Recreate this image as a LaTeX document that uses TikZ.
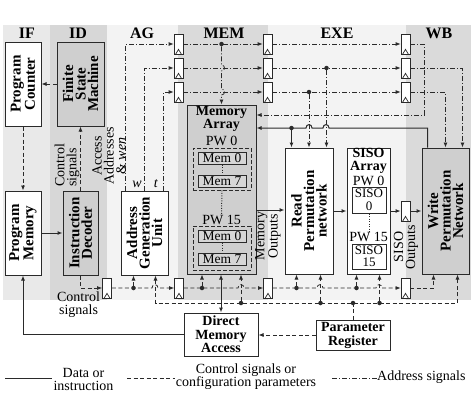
\documentclass[tikz,border=0pt]{standalone}
\usepackage{fontspec}
\setmainfont{Liberation Serif}
\usetikzlibrary{arrows.meta,calc}
\definecolor{bIF}{HTML}{E9E9E9}
\definecolor{bID}{HTML}{D7D7D7}
\definecolor{bAG}{HTML}{F3F3F3}
\definecolor{bMEM}{HTML}{DADADA}
\definecolor{bEXE}{HTML}{F3F3F3}
\definecolor{bWB}{HTML}{DADADA}
\definecolor{boxg}{HTML}{CFCFCF}
\definecolor{memg}{HTML}{D6D6D6}
\definecolor{lineg}{HTML}{2A2A2A}
\begin{document}
\begin{tikzpicture}[x=1pt,y=-1pt,
  >={Latex[length=5pt,width=4pt]},
  blk/.style={draw=lineg,line width=1pt,inner sep=0pt},
  bt/.style={font=\bfseries\fontsize{14}{12.5}\selectfont,align=center,inner sep=0pt},
  rbt/.style={font=\bfseries\fontsize{15}{12.5}\selectfont,align=center,inner sep=0pt,rotate=90},
  rt/.style={font=\fontsize{14}{12}\selectfont,align=center,inner sep=0pt},
  lt/.style={font=\fontsize{14}{13}\selectfont,align=center,inner sep=0pt},
  rrt/.style={rt,rotate=90},
  stage/.style={font=\bfseries\fontsize{16}{16}\selectfont,inner sep=0pt},
  ffbox/.style={draw=lineg,fill=white,line width=0.8pt,minimum width=9pt,minimum height=20pt,inner sep=0pt},
  ffclk/.style={draw=lineg,line width=0.7pt},
  addr/.style={draw=lineg,line width=0.8pt,dash pattern=on 5pt off 2pt on 1pt off 2pt},
  ctrl/.style={draw=lineg,line width=0.8pt,dash pattern=on 4pt off 2.5pt},
  data/.style={draw=lineg,line width=1pt},
  dotln/.style={draw=lineg,line width=1pt,dash pattern=on 1pt off 1.5pt},
  pwbox/.style={draw=lineg,line width=0.8pt,dash pattern=on 4pt off 2pt,inner sep=0pt},
  membox/.style={draw=lineg,line width=1pt,fill=memg,minimum width=48pt,minimum height=12pt,inner sep=0pt,font=\fontsize{13.5}{11}\selectfont},
  sbox/.style={draw=lineg,line width=1pt,fill=white,minimum width=34pt,inner sep=0pt,align=center,font=\fontsize{13}{12.5}\selectfont},
  dot/.style={circle,fill=lineg,inner sep=0pt,minimum size=4.5pt}
]
\newcommand\ffreg[3]{%
  \node[ffbox] (#1) at (#2,#3) {};
  \draw[ffclk] ([xshift=-3pt]#1.south) -- ([yshift=5pt]#1.south) -- ([xshift=3pt]#1.south);
}
\fill[white] (0,0) rectangle (474,415);
\useasboundingbox (0,0) rectangle (474,415);
% stage bands
\fill[bIF] (3,25) rectangle (50,300);
\fill[bID] (50,25) rectangle (107,300);
\fill[bAG] (107,25) rectangle (178,300);
\fill[bMEM] (178,25) rectangle (268,300);
\fill[bEXE] (268,25) rectangle (406,300);
\fill[bWB] (406,25) rectangle (471,300);
\node[stage] (sIF) at (27,33) {IF};
\node[stage] (sID) at (78,33) {ID};
\node[stage] (sAG) at (142,33) {AG};
\node[stage] (sMEM) at (224,33) {MEM};
\node[stage] (sEXE) at (337,33) {EXE};
\node[stage] (sWB) at (439,33) {WB};

% blocks
\node[blk,fill=white,minimum width=36pt,minimum height=84pt] (pc) at (23,84) {};
\node[rbt] (pcT) at (pc) {Program\\Counter};
\node[blk,fill=boxg,minimum width=47pt,minimum height=84pt] (fsm) at (80.5,84) {};
\node[rbt] (fsmT) at (fsm) {Finite\\State\\Machine};
\node[blk,fill=white,minimum width=36pt,minimum height=84pt] (pm) at (23,233) {};
\node[rbt] (pmT) at (pm) {Program\\Memory};
\node[blk,fill=boxg,minimum width=35pt,minimum height=84pt] (idec) at (80.5,233) {};
\node[rbt] (idecT) at (idec) {Instruction\\Decoder};
\node[blk,fill=white,minimum width=47pt,minimum height=84pt] (agu) at (144.5,233) {};
\node[rbt] (aguT) at (agu) {Address\\Generation\\Unit};
\node[blk,fill=boxg,minimum width=69pt,minimum height=169pt] (mem) at (221.5,189.5) {};
\node[bt] (memT) at (221.5,119) {Memory\\Array};
\node[rt] (pw0) at (221.5,141) {PW 0};
\node[pwbox,minimum width=58pt,minimum height=42pt] (pwa) at (222,169) {};
\node[membox] (m00) at (222,158) {Mem 0};
\node[membox] (m07) at (222,181) {Mem 7};
\draw[dotln] (m00.south) -- (m07.north);
\coordinate (pwmid) at (221.5,214);
\draw[dotln] (pwa.south) -- (pwmid);
\node[rt] (pw15) at (221.5,220) {PW 15};
\node[pwbox,minimum width=58pt,minimum height=44pt] (pwb) at (222,248) {};
\node[membox] (m10) at (222,236) {Mem 0};
\node[membox] (m17) at (222,259) {Mem 7};
\draw[dotln] (m10.south) -- (m17.north);
\node[blk,fill=white,minimum width=48pt,minimum height=126pt] (rpn) at (309,211) {};
\node[rbt] (rpnT) at (rpn) {Read\\Permutation\\network};
\node[blk,fill=white,minimum width=43pt,minimum height=126pt] (siso) at (368.5,211) {};
\node[bt] (sisoT) at (368.5,161) {SISO\\Array};
\node[rt] (spw0) at (368.5,181) {PW 0};
\node[sbox,minimum height=26pt] (s0) at (369,200) {SISO\\0};
\coordinate (smid) at (369,232);
\draw[dotln] (s0.south) -- (smid);
\node[rt] (spw15) at (368.5,236.5) {PW 15};
\node[sbox,minimum height=25pt] (s15) at (369,256.5) {SISO\\15};
\node[blk,fill=boxg,minimum width=47pt,minimum height=126pt] (wpn) at (445.5,211) {};
\node[rbt] (wpnT) at (wpn) {Write\\Permutation\\Network};
\node[blk,fill=white,minimum width=74pt,minimum height=43pt] (dma) at (221,334.5) {};
\node[bt,font=\bfseries\fontsize{14}{13.5}\selectfont] (dmaT) at (dma) {Direct\\Memory\\Access};
\node[blk,fill=white,minimum width=74pt,minimum height=30pt] (preg) at (353,335) {};
\node[bt,font=\bfseries\fontsize{14}{14}\selectfont] (pregT) at (preg) {Parameter\\Register};

% registers
\ffreg{fa1}{178.5}{44}\ffreg{fa2}{178.5}{68}\ffreg{fa3}{178.5}{92}
\ffreg{fb1}{267.5}{44}\ffreg{fb2}{267.5}{68}\ffreg{fb3}{267.5}{92}
\ffreg{fc1}{405.5}{44}\ffreg{fc2}{405.5}{68}\ffreg{fc3}{405.5}{92}
\ffreg{fd1}{107}{288}\ffreg{fd2}{179}{288}\ffreg{fd3}{268}{288}\ffreg{fd4}{405.5}{288}
\ffreg{fs}{405.5}{211}

% helper coordinates
\coordinate (Y115) at (0,115);
\coordinate (Y128) at (0,128);
\coordinate (Y210) at (0,210);
\coordinate (Y288) at (0,288);
\coordinate (Y303) at (0,303);
\coordinate (X424) at (424,0);
\coordinate (rpnS) at ($(rpn.north west)+(7,0)$);
\coordinate (rpnB) at ($(rpn.north east)+(-7,0)$);
\coordinate (wpnS) at ($(wpn.north west)+(6,0)$);
\coordinate (wpnC) at ($(wpn.north east)+(-7,0)$);
\coordinate (agL) at ($(agu.south west)+(13,0)$);
\coordinate (agR) at ($(agu.south east)+(-13,0)$);
\coordinate (memL) at ($(mem.south)+(-19.5,0)$);
\coordinate (memR) at ($(mem.south)+(19.5,0)$);
\coordinate (rpnL) at ($(rpn.south west)+(12,0)$);
\coordinate (rpnR) at ($(rpn.south east)+(-13,0)$);
\coordinate (sisoL) at ($(siso.south west)+(10,0)$);
\coordinate (sisoR) at ($(siso.south east)+(-11,0)$);
\coordinate (wpnL) at ($(wpn.south west)+(12,0)$);
\coordinate (wpnR) at ($(wpn.south east)+(-12,0)$);

% address signals
\draw[addr,->] ($(agu.north west)+(5,0)$) |- (fa1.west);
\draw[addr,->] ($(agu.north)+(-0.5,0)$) |- (fa2.west);
\draw[addr,->] ($(agu.north east)+(-5,0)$) |- (fa3.west);
\draw[addr,->] (fa1.east) -- (fb1.west);
\draw[addr,->] (fa2.east) -- (fb2.west);
\draw[addr,->] (fa3.east) -- (fb3.west);
\draw[addr,->] (fb1.east) -- (fc1.west);
\draw[addr,->] (fb2.east) -- (fc2.west);
\draw[addr,->] (fb3.east) -- (fc3.west);
\draw[addr,->] (fc1.east) -| (X424 |- Y115) -- (mem.east |- Y115);
\draw[addr,->] (fc2.east) -| (wpnC);
\draw[addr,->] (fc3.east) -| (wpn.north);
\node[dot] (d1) at (mem.north |- fa1.east) {};
\draw[addr,->] (d1) -- (221.5,65) .. controls (225.5,65) and (225.5,71) .. (221.5,71)
  -- (221.5,89) .. controls (225.5,89) and (225.5,95) .. (221.5,95) -- (mem.north);
\node[dot] (d2) at (rpnB |- fb2.east) {};
\draw[addr,->] (d2) -- (rpnB);
\node[dot] (d3) at (rpn.north |- fb3.east) {};
\draw[addr,->] (d3) -- (rpn.north);

% data
\draw[data,->] (wpnS) -- (wpnS |- Y128) -- (329,128) .. controls (329,123.5) and (323,123.5) .. (323,128)
  -- (312,128) .. controls (312,123.5) and (306,123.5) .. (306,128) -- (mem.east |- Y128);
\node[dot] (d4) at (rpnS |- Y128) {};
\draw[data,->] (d4) -- (rpnS);
\draw[data,->] (mem.east |- Y210) -- (rpn.west |- Y210);
\draw[data,->] (rpn.east) -- (siso.west);
\draw[data,->] (siso.east) -- (fs.west);
\draw[data,->] (fs.east) -- (wpn.west);
\draw[data,->] (pm.east) -- (idec.west);
\draw[data,->] (dma.west) -| (pm.south);
\draw[data,<->] (dma.north) -- (dma.north |- mem.south);

% control
\draw[ctrl,->] (fsm.west) -- (pc.east);
\draw[ctrl,->] (pc.south) -- (pm.north);
\draw[ctrl,->] (idec.north) -- (fsm.south);
\draw[ctrl,->] (idec.south) |- (fd1.west);
\node[dot] (c1) at (agL |- Y288) {};
\draw[ctrl,->] (c1) -- (agL);
\draw[ctrl,->] (fd1.east) -- (152,288) .. controls (152,283.5) and (158,283.5) .. (158,288) -- (fd2.west);
\node[dot] (c2) at (memL |- Y288) {};
\draw[ctrl,->] (c2) -- (memL);
\draw[ctrl,->] (fd2.east) -- (238,288) .. controls (238,283.5) and (244,283.5) .. (244,288) -- (fd3.west);
\node[dot] (c3) at (rpnL |- Y288) {};
\draw[ctrl,->] (c3) -- (rpnL);
\node[dot] (c4) at (sisoL |- Y288) {};
\draw[ctrl,->] (c4) -- (sisoL);
\draw[ctrl,->] (fd3.east) -- (317,288) .. controls (317,283.5) and (323,283.5) .. (323,288)
  -- (376,288) .. controls (376,283.5) and (382,283.5) .. (382,288) -- (fd4.west);
\draw[ctrl,->] (fd4.east) -| (wpnL);
\draw[ctrl,<->] (agR) |- (wpnR |- Y303) -- (wpnR);
\node[dot] (c5) at (memR |- Y303) {};
\draw[ctrl,->] (c5) -- (memR);
\node[dot] (c6) at (rpnR |- Y303) {};
\draw[ctrl,->] (c6) -- (rpnR);
\node[dot] (c7) at (sisoR |- Y303) {};
\draw[ctrl,->] (c7) -- (sisoR);
\node[dot] (c8) at (preg.north |- Y303) {};
\draw[ctrl] (preg.north) -- (c8);
\draw[ctrl,->] (preg.west) -- (dma.east |- preg.west);

% annotations
\node[rrt,anchor=west,align=left] (ctlT) at (67,187) {Control\\signals};
\node[rrt] (accT) at (109,156) {Access\\Addresses\\\& \textit{wen}};
\node[rt] (wT) at (137,184) {\textit{w}};
\node[rt] (tT) at (156,184) {\textit{t}};
\node[rrt] (moT) at (268,236) {Memory\\Outputs};
\node[rrt] (soT) at (406,247) {SISO\\Outputs};
\node[lt] (ctl2T) at (78.5,305) {Control\\signals};

% legend
\coordinate (l1a) at (5,378); \coordinate (l1b) at (52,378);
\draw[data] (l1a) -- (l1b);
\node[lt] (l1t) at (83.5,379.5) {Data or\\instruction};
\coordinate (l2a) at (127,378); \coordinate (l2b) at (175,378);
\draw[ctrl] (l2a) -- (l2b);
\node[lt] (l2t) at (246,377) {Control signals or\\configuration parameters};
\coordinate (l3a) at (332,378); \coordinate (l3b) at (377,378);
\draw[addr] (l3a) -- (l3b);
\node[rt,anchor=west] (l3t) at (l3b |- 0,377) {Address signals};
\end{tikzpicture}
\end{document}
